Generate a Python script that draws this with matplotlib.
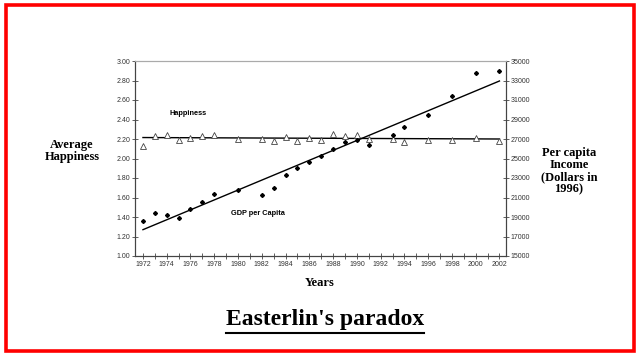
import matplotlib
matplotlib.use("Agg")
import matplotlib.pyplot as plt
from matplotlib.patches import Rectangle
from matplotlib.lines import Line2D
import numpy as np

# ---- data ----
happy_years = [1972, 1973, 1974, 1975, 1976, 1977, 1978, 1980, 1982, 1983, 1984, 1985,
               1986, 1987, 1988, 1989, 1990, 1991, 1993, 1994, 1996, 1998, 2000, 2002]
happiness = [2.13, 2.23, 2.24, 2.19, 2.21, 2.23, 2.24, 2.20, 2.20, 2.18, 2.22, 2.18,
             2.21, 2.19, 2.25, 2.23, 2.24, 2.20, 2.20, 2.17, 2.19, 2.19, 2.21, 2.18]
gdp_years = happy_years
gdp = [18580, 19460, 19190, 18920, 19770, 20490, 21410, 21810, 21240, 21950, 23280, 23990,
       24610, 25220, 26000, 26690, 26920, 26410, 27370, 28190, 29450, 31460, 33810, 34010]
trend_years = [1972, 2002]
happy_trend = [2.215, 2.20]
gdp_trend = [17700, 32950]

x_ticks = list(range(1972, 2003, 2))
y_left_ticks = [1.00, 1.20, 1.40, 1.60, 1.80, 2.00, 2.20, 2.40, 2.60, 2.80, 3.00]
y_right_ticks = list(range(15000, 35001, 2000))

W, H = 640, 358
fig = plt.figure(figsize=(W / 100, H / 100), dpi=100)
fig.patch.set_facecolor("white")

ax = fig.add_axes([135 / W, 1 - 256 / H, 371 / W, 195 / H])
ax2 = ax.twinx()

tick_font = dict(family="Liberation Sans", size=5)
ax.set_xlim(1971.33, 2002.55)
ax.set_ylim(1.0, 3.0)
ax2.set_ylim(15000, 35000)

ax.set_xticks(x_ticks)
ax.set_xticklabels([str(t) for t in x_ticks], **tick_font, color="#333333")
ax.set_xticks(range(1972, 2003), minor=True)
ax.set_yticks(y_left_ticks)
ax.set_yticklabels([f"{v:.2f}" for v in y_left_ticks], **tick_font, color="#333333")
ax2.set_yticks(y_right_ticks)
ax2.set_yticklabels([str(v) for v in y_right_ticks], **tick_font, color="#333333")

for a in (ax, ax2):
    a.tick_params(which="both", direction="inout", length=4, width=0.6, color="#444444", pad=1.5)
    for s in a.spines.values():
        s.set_linewidth(0.8)
        s.set_color("#444444")
    a.spines["top"].set_color("#aaaaaa")
    a.spines["top"].set_linewidth(0.8)
ax.tick_params(axis="x", which="minor", labelbottom=False)

# happiness
ax.plot(trend_years, happy_trend, color="black", lw=1.0, zorder=2)
ax.plot(happy_years, happiness, linestyle="none", marker="^", markersize=5,
        markerfacecolor="white", markeredgecolor="#444444", markeredgewidth=0.6, zorder=3)
# GDP
ax2.plot(trend_years, gdp_trend, color="black", lw=1.0, zorder=2)
ax2.plot(gdp_years, gdp, linestyle="none", marker="D", markersize=2.0,
         color="black", zorder=3)

ax.text(1974.2, 2.46, "Happiness", fontfamily="Liberation Sans", fontweight="bold",
        fontsize=5.3, ha="left", va="center")
ax.text(1979.4, 1.44, "GDP per Capita", fontfamily="Liberation Sans", fontweight="bold",
        fontsize=5.3, ha="left", va="center")

serif = dict(family="Liberation Serif", weight="bold", size=9)
fig.text(72 / W, 1 - 151 / H, "Average\nHappiness", ha="center", va="center",
         linespacing=1.0, **serif)
fig.text(569 / W, 1 - 171 / H, "Per capita\nIncome\n(Dollars in\n1996)", ha="center",
         va="center", linespacing=1.0, **serif)
fig.text(320 / W, 1 - 283 / H, "Years", ha="center", va="center", **serif)

title = fig.text(325 / W, 1 - 320 / H, "Easterlin's paradox", ha="center", va="center",
                 family="Liberation Serif", weight="bold", size=17)
fig.canvas.draw()
bb = title.get_window_extent()
fig.add_artist(Line2D([bb.x0 / W, bb.x1 / W], [1 - 333 / H, 1 - 333 / H],
                      transform=fig.transFigure, color="black", lw=1.5))

# red border
fig.add_artist(Rectangle((5.5 / W, 1 - 351 / H), 628.5 / W, 346 / H,
                         transform=fig.transFigure, fill=False, edgecolor="#ff0000",
                         linewidth=2.6))

fig.savefig("out.png", dpi=100)
